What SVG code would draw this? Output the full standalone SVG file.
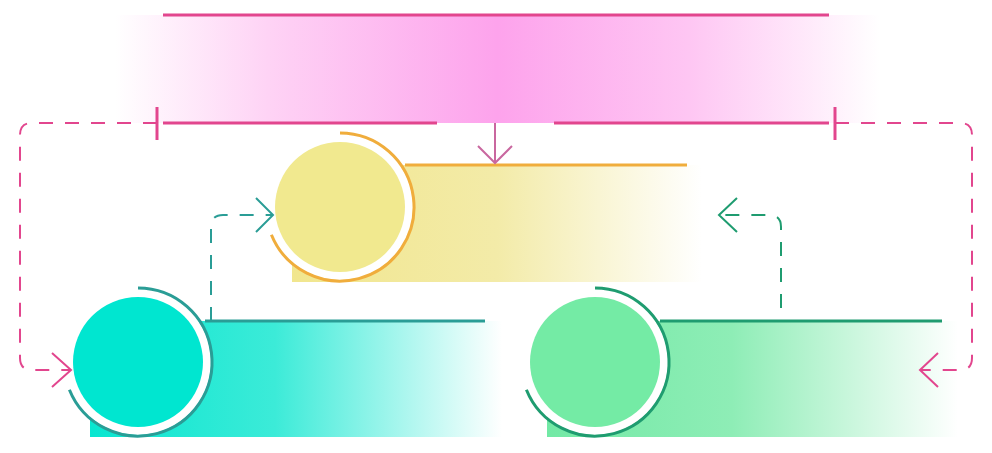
<svg xmlns="http://www.w3.org/2000/svg" width="992" height="453" viewBox="0 0 992 453">
<defs>
<linearGradient id="gPink" x1="115" y1="0" x2="880" y2="0" gradientUnits="userSpaceOnUse">
<stop offset="0" stop-color="#ffffff"/>
<stop offset="0.2" stop-color="#fed3f5"/>
<stop offset="0.5" stop-color="#fda3ec"/>
<stop offset="0.75" stop-color="#fec6f3"/>
<stop offset="1" stop-color="#ffffff"/>
</linearGradient>
<linearGradient id="gYellow" x1="292" y1="0" x2="702" y2="0" gradientUnits="userSpaceOnUse">
<stop offset="0" stop-color="#f1e68e"/>
<stop offset="0.5" stop-color="#f3eba8"/>
<stop offset="1" stop-color="#ffffff"/>
</linearGradient>
<linearGradient id="gTeal" x1="90" y1="0" x2="502" y2="0" gradientUnits="userSpaceOnUse">
<stop offset="0" stop-color="#08e6d0"/>
<stop offset="0.45" stop-color="#3cebd8"/>
<stop offset="1" stop-color="#ffffff"/>
</linearGradient>
<linearGradient id="gGreen" x1="547" y1="0" x2="958" y2="0" gradientUnits="userSpaceOnUse">
<stop offset="0" stop-color="#72e9a5"/>
<stop offset="0.45" stop-color="#8eedb6"/>
<stop offset="1" stop-color="#ffffff"/>
</linearGradient>
</defs>
<style>
.pline{stroke:#e2468e;stroke-width:3;fill:none}
.pdash{stroke:#e2468e;stroke-width:2;fill:none;stroke-dasharray:14 12}
.phead{stroke:#e2468e;stroke-width:2;fill:none}
.tdash{stroke:#2a9d96;stroke-width:2;fill:none;stroke-dasharray:14 12}
.thead{stroke:#2a9d96;stroke-width:2;fill:none}
.gdash{stroke:#1f9c70;stroke-width:2;fill:none;stroke-dasharray:14 12}
.ghead{stroke:#1f9c70;stroke-width:2;fill:none}
.ring{fill:#ffffff}
</style>
<rect width="992" height="453" fill="#ffffff"/>

<g id="top-node">
<rect x="115" y="15" width="765" height="108" fill="url(#gPink)"/>
<line class="pline" x1="163" y1="15" x2="829" y2="15"/>
<line class="pline" x1="163" y1="123" x2="437" y2="123"/>
<line class="pline" x1="554" y1="123" x2="829" y2="123"/>
<line class="pline" x1="157" y1="107" x2="157" y2="140"/>
<line class="pline" x1="835" y1="107" x2="835" y2="140"/>
</g>

<g id="yellow-node">
<rect x="292" y="165" width="410" height="117" fill="url(#gYellow)"/>
<line x1="405" y1="165" x2="687" y2="165" stroke="#f0ad3c" stroke-width="3"/>
<circle class="ring" cx="340" cy="207" r="73"/>
<path d="M340,133 A74,74 0 1 1 271.4,234.7" fill="none" stroke="#f0ad3c" stroke-width="3"/>
<circle cx="340" cy="207" r="65" fill="#f1e98f"/>
</g>

<g id="teal-node">
<rect x="90" y="321" width="412" height="116" fill="url(#gTeal)"/>
<line x1="205" y1="321" x2="485" y2="321" stroke="#2a9d96" stroke-width="3"/>
<circle class="ring" cx="138" cy="362" r="73"/>
<path d="M138,288 A74,74 0 1 1 69.4,389.7" fill="none" stroke="#2a9d96" stroke-width="3"/>
<circle cx="138" cy="362" r="65" fill="#00e6d0"/>
</g>

<g id="green-node">
<rect x="547" y="321" width="411" height="116" fill="url(#gGreen)"/>
<line x1="660" y1="321" x2="942" y2="321" stroke="#1f9c70" stroke-width="3"/>
<circle class="ring" cx="595" cy="362" r="73"/>
<path d="M595,288 A74,74 0 1 1 526.4,389.7" fill="none" stroke="#1f9c70" stroke-width="3"/>
<circle cx="595" cy="362" r="65" fill="#74eba5"/>
</g>

<g id="connectors">
<path class="pdash" d="M157,123 H32 Q20,123 20,135 V358 Q20,370 32,370 H70"/>
<path class="phead" d="M52,353 L71,370 L52,387"/>
<path class="pdash" d="M835,123 H960 Q972,123 972,135 V358 Q972,370 960,370 H921"/>
<path class="phead" d="M938,353 L920,370 L938,387"/>
<path d="M495,123 V163 M478,146 L495,163 L512,146" fill="none" stroke="#c9679f" stroke-width="2"/>
<path class="tdash" d="M211,321 V227 Q211,215 223,215 H272"/>
<path class="thead" d="M256,198 L273,215 L256,232"/>
<path class="gdash" d="M781,308 V227 Q781,215 769,215 H720"/>
<path class="ghead" d="M737,198 L719,215 L737,232"/>
</g>
</svg>
